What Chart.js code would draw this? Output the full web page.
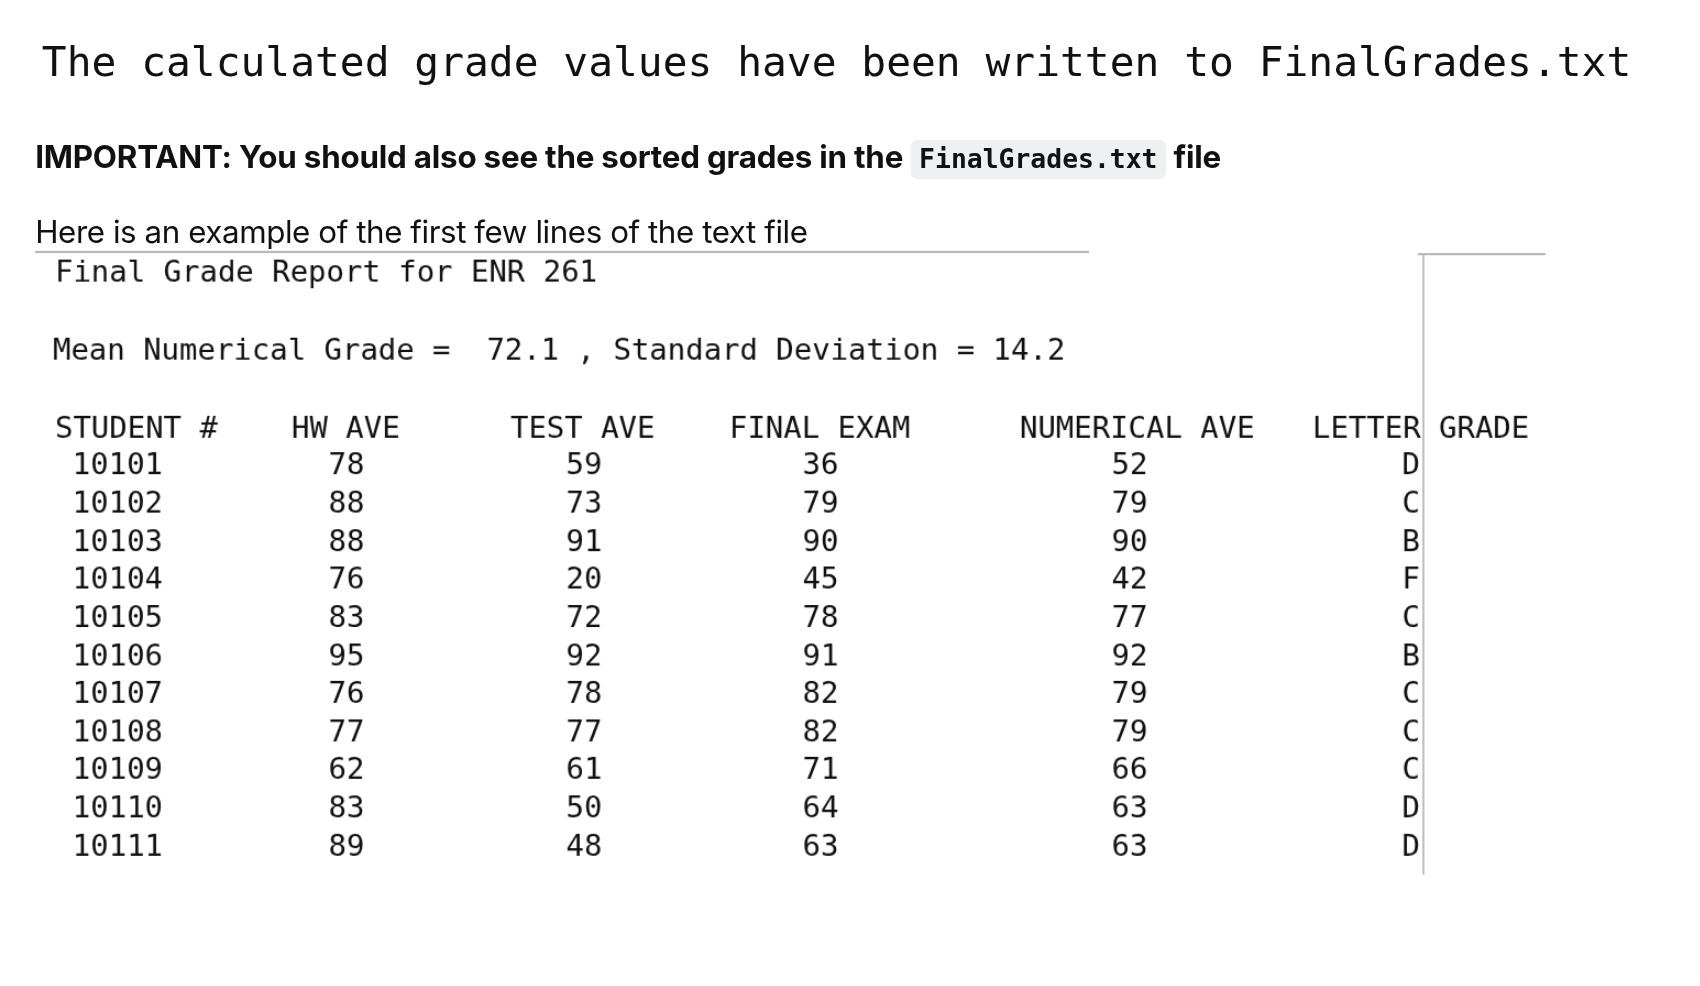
<!DOCTYPE html>
<html><head><meta charset="utf-8">
<script src="https://cdn.jsdelivr.net/npm/chart.js@4/dist/chart.umd.min.js"></script>
<style>
body{margin:0;background:#fff;width:1700px;height:986px;position:relative;overflow:hidden;color:#111}
#page{position:absolute;left:0;top:0;width:1545px;height:896px;transform:scale(1.1);transform-origin:0 0}
.mono{font-family:"DejaVu Sans Mono",monospace}
.t{position:absolute;white-space:pre}
#h1{left:38px;top:34px;font-size:37.5px}
#h2{left:32px;top:125px;font-size:28.5px;font-weight:bold;font-family:Inter,"Noto Sans",sans-serif;letter-spacing:-0.2px}
#h2 code{font-family:"DejaVu Sans Mono",monospace;font-size:24px;font-weight:bold;background:#eef0f2;border-radius:6px;padding:4px 8px;letter-spacing:0}
#h3{left:32px;top:193px;font-size:28.5px;font-family:Inter,"Noto Sans",sans-serif;letter-spacing:-0.4px}
#wrap{position:absolute;left:0;top:227px;width:1545px;height:582px}
</style></head><body>
<div id="page">
<div id="h1" class="t mono">The calculated grade values have been written to FinalGrades.txt</div>
<div id="h2" class="t">IMPORTANT: You should also see the sorted grades in the <code>FinalGrades.txt</code> file</div>
<div id="h3" class="t">Here is an example of the first few lines of the text file</div>
<div id="wrap"><canvas id="c" width="1545" height="582"></canvas></div>
</div>
<script>
const reportTitle = 'Final Grade Report for ENR 261';
const statsLine = 'Mean Numerical Grade =  72.1 , Standard Deviation = 14.2';
const headers = ['STUDENT #', 'HW AVE', 'TEST AVE', 'FINAL EXAM', 'NUMERICAL AVE', 'LETTER GRADE'];
const students = ['10101','10102','10103','10104','10105','10106','10107','10108','10109','10110','10111'];
const hwAve = [78, 88, 88, 76, 83, 95, 76, 77, 62, 83, 89];
const testAve = [59, 73, 91, 20, 72, 92, 78, 77, 61, 50, 48];
const finalExam = [36, 79, 90, 45, 78, 91, 82, 82, 71, 64, 63];
const numericalAve = [52, 79, 90, 42, 77, 92, 79, 79, 66, 63, 63];
const letterGrade = ['D','C','B','F','C','B','C','C','C','D','D'];

// layout (pixels, relative to canvas, before page scale)
const headerX = [50, 265, 464, 663, 927, 1193];
const colX = [148, 315, 531, 746, 1027, 1291];
const colAlign = ['right','center','center','center','center','right'];
const FONT = '27.3px "DejaVu Sans Mono", monospace';

const tablePlugin = {
  id: 'tableText',
  afterDraw(chart) {
    const ctx = chart.ctx, y = chart.scales.y;
    ctx.save();
    ctx.font = FONT;
    ctx.fillStyle = '#111';
    ctx.textBaseline = 'middle';
    ctx.textAlign = 'left';
    ctx.fillText(reportTitle, 50, 22);
    ctx.fillText(statsLine, 48, 93);
    headers.forEach((h, i) => ctx.fillText(h, headerX[i], 164));
    const cols = [students, hwAve, testAve, finalExam, numericalAve, letterGrade];
    students.forEach((s, r) => {
      const py = y.getPixelForValue(r);
      cols.forEach((col, c) => {
        ctx.textAlign = colAlign[c];
        ctx.fillText(String(col[r]), colX[c], py);
      });
    });
    ctx.strokeStyle = '#b8b8b8';
    ctx.lineWidth = 1.8;
    ctx.beginPath();
    ctx.moveTo(32, 2); ctx.lineTo(990, 2);
    ctx.moveTo(1289, 4); ctx.lineTo(1405, 4);
    ctx.moveTo(1294, 4); ctx.lineTo(1294, 568);
    ctx.stroke();
    ctx.restore();
  }
};

new Chart(document.getElementById('c'), {
  type: 'bar',
  data: { labels: students, datasets: [{ data: numericalAve, backgroundColor: 'rgba(0,0,0,0)' }] },
  options: {
    indexAxis: 'y',
    responsive: false,
    animation: false,
    layout: { padding: { top: 180, bottom: 21, left: 0, right: 0 } },
    plugins: { legend: { display: false }, tooltip: { enabled: false } },
    scales: {
      x: { display: false, min: 0, max: 100 },
      y: { display: false, offset: true }
    }
  },
  plugins: [tablePlugin]
});
</script>
</body></html>
